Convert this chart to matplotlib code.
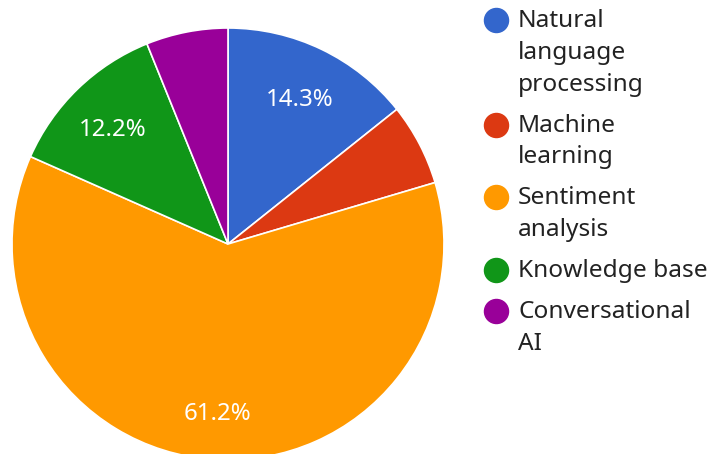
import matplotlib.pyplot as plt

categories = ["Natural\nlanguage\nprocessing", "Machine\nlearning", "Sentiment\nanalysis",
              "Knowledge base", "Conversational\nAI"]
values = [7, 3, 30, 6, 3]
colors = ["#3366CC", "#DC3912", "#FF9900", "#109618", "#990099"]

plt.rcParams['font.family'] = ['Noto Sans', 'DejaVu Sans']

W, H = 709, 454
fig = plt.figure(figsize=(W / 100, H / 100), dpi=100)
ax = fig.add_axes([0, 0, 1, 1])


def pct_label(p):
    # small slices get no label, like the original
    return f"{p:.1f}%" if p >= 8 else ""


wedges, _, autotexts = ax.pie(values, colors=colors, startangle=90, counterclock=False,
                              center=(228, H - 244), radius=216, frame=True,
                              autopct=pct_label, pctdistance=0.765,
                              wedgeprops=dict(edgecolor="white", linewidth=1.2),
                              textprops=dict(color="white", fontsize=17.3))
for t in autotexts:
    x, y = t.get_position()
    t.set_position((x, y - 5))

ax.set_xlim(0, W)
ax.set_ylim(0, H)
ax.set_aspect('equal')
ax.axis('off')

# legend, drawn by hand so the marker sits on the first line
y = 20
for label, c in zip(categories, colors):
    ax.scatter([496], [H - y], s=300, color=c, clip_on=False)
    for i, line in enumerate(label.split("\n")):
        ax.text(518, H - (y + 1 + i * 31.8), line, fontsize=17.6, color="#222222",
                va='center', ha='left')
    y += (len(label.split("\n")) - 1) * 31.8 + 41

fig.savefig("out.png", dpi=100)
